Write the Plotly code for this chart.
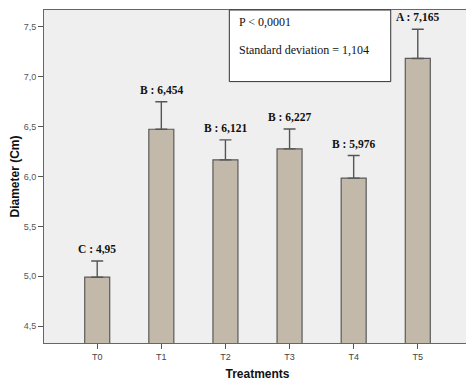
import plotly.graph_objects as go

categories = ["T0", "T1", "T2", "T3", "T4", "T5"]
# bar heights as drawn in the picture
means = [4.99, 6.474, 6.167, 6.277, 5.984, 7.184]
errors = [0.163, 0.276, 0.20, 0.20, 0.226, 0.293]
labels = ["C : 4,95", "B : 6,454", "B : 6,121", "B : 6,227", "B : 5,976", "A : 7,165"]
ytick_vals = [4.5, 5.0, 5.5, 6.0, 6.5, 7.0, 7.5]
ytick_text = ["4,5", "5,0", "5,5", "6,0", "6,5", "7,0", "7,5"]

fig = go.Figure()
fig.add_trace(go.Bar(
    x=categories, y=means, width=0.39,
    marker=dict(color="#C3B9AB", line=dict(color="#5A5A5A", width=1.2)),
    error_y=dict(type="data", symmetric=False, array=errors,
                 arrayminus=[0] * len(errors), color="#555555",
                 thickness=1.4, width=6),
    showlegend=False, hoverinfo="skip",
))

for c, m, e, t in zip(categories, means, errors, labels):
    fig.add_annotation(x=c, y=m + e, text="<b>" + t + "</b>", showarrow=False,
                       yanchor="middle", yshift=12,
                       font=dict(family="Liberation Serif, Times New Roman, serif",
                                 size=11.5, color="#111111"))

fig.add_shape(type="rect", xref="paper", yref="paper",
              x0=0.434, x1=0.812, y0=0.785, y1=1.0,
              fillcolor="white", line=dict(color="#333333", width=1))
fig.add_annotation(xref="paper", yref="paper", x=0.452, y=0.965,
                   text="P < 0,0001", showarrow=False, xanchor="left", yanchor="middle",
                   font=dict(family="Liberation Serif, Times New Roman, serif", size=12, color="#111111"))
fig.add_annotation(xref="paper", yref="paper", x=0.452, y=0.88,
                   text="Standard deviation = 1,104", showarrow=False, xanchor="left", yanchor="middle",
                   font=dict(family="Liberation Serif, Times New Roman, serif", size=12, color="#111111"))

fig.update_layout(
    width=466, height=374,
    margin=dict(l=36, r=3, t=2, b=39),
    paper_bgcolor="white", plot_bgcolor="#EFEFEF",
    font=dict(family="Liberation Sans, Arial, sans-serif", size=9, color="#555555"),
    xaxis=dict(range=[-0.83, 5.83], showgrid=False, ticks="outside", ticklen=5,
               tickcolor="#555555", showline=True, linecolor="#666666", mirror=True,
               linewidth=1, tickfont=dict(size=9, color="#444444"),
               title=dict(text="<b>Treatments</b>", standoff=8,
                          font=dict(size=12, color="#111111"))),
    yaxis=dict(range=[4.33, 7.67], showgrid=False, ticks="outside", ticklen=5,
               tickcolor="#555555", showline=True, linecolor="#666666", mirror=True,
               linewidth=1, tickvals=ytick_vals, ticktext=ytick_text,
               tickfont=dict(size=9, color="#555555"),
               title=dict(text="<b>Diameter (Cm)</b>", standoff=6,
                          font=dict(size=12, color="#111111"))),
)

fig.write_html("out.html")
